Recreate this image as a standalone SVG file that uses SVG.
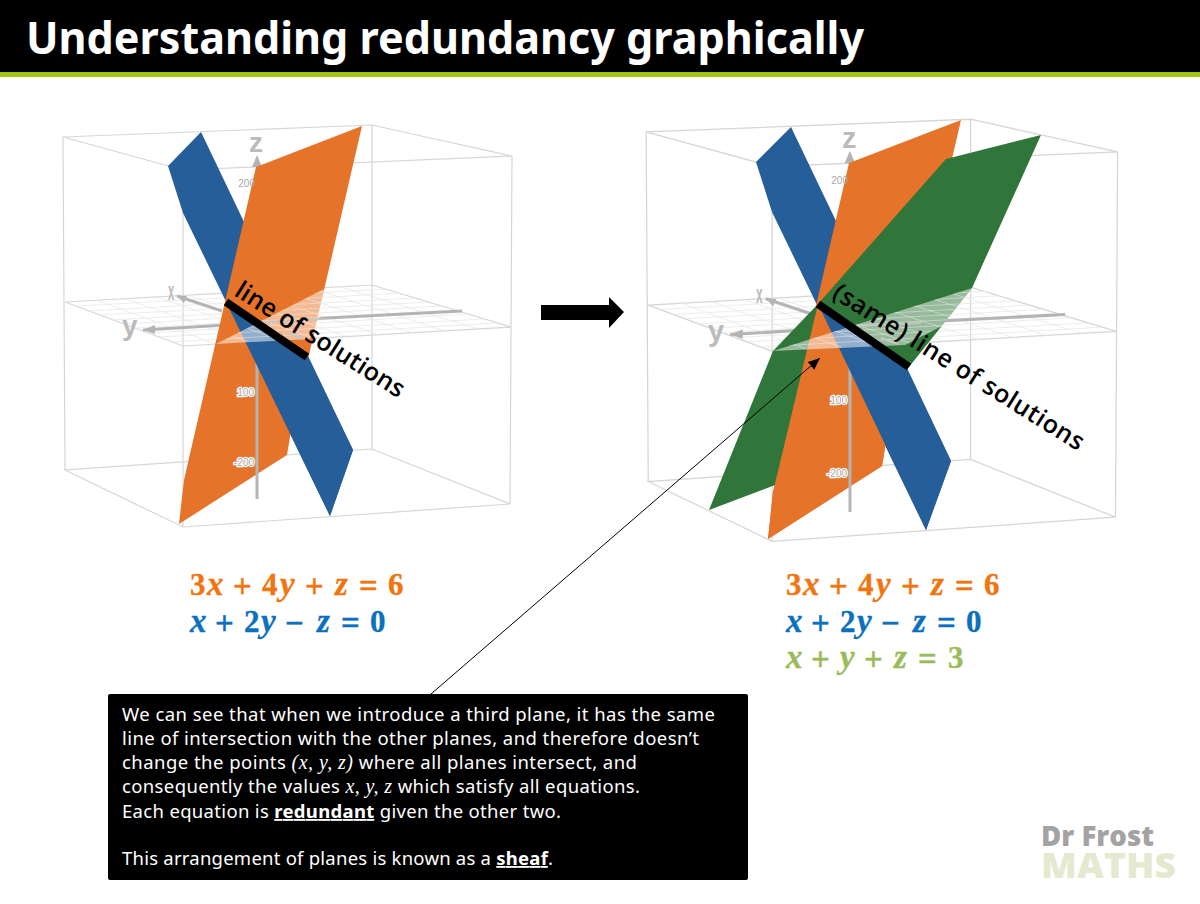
<svg xmlns="http://www.w3.org/2000/svg" xmlns:xlink="http://www.w3.org/1999/xlink" width="1200" height="904" viewBox="0 0 1200 904">
<style>
.blue{fill:#265e99}
.orange{fill:#e5742a}
.green{fill:#30753a}
.veil{fill:#fff;opacity:.5}
.sol{stroke:#000;stroke-width:8;fill:none}
.axis{stroke:#b4b4b4;stroke-width:3;fill:none}
.axisf{stroke:#c6c6c6;stroke-width:2;fill:none}
.ah{fill:#b4b4b4}
.axl{font-family:"Liberation Sans",Arial,sans-serif;fill:#bbb;font-weight:700}
.tick{font-family:"Liberation Sans",Arial,sans-serif;font-size:10px;fill:#a8a8a8;text-anchor:end}
.halo{paint-order:stroke;stroke:#fff;stroke-width:2.5px}
.lab{font-family:"Open Sans","Noto Sans",sans-serif;font-size:25px;font-weight:600;fill:#000}
.eq{font-family:"Liberation Serif","Times New Roman",serif;font-size:31px;font-weight:700;stroke-width:.35px}
.eq .v{font-style:italic;font-size:33px}
.eq .op{font-size:33px;baseline-shift:-2px}
.or{fill:#f0750f;stroke:#f0750f}
.bl{fill:#0b70bd;stroke:#0b70bd}
.gr{fill:#9bbb59;stroke:#9bbb59}
.body{font-family:"Noto Sans","DejaVu Sans",sans-serif;font-size:18.5px;fill:#fff}
.m{font-family:"Liberation Serif",serif;font-style:italic;font-size:20px}
.st{font-weight:700;text-decoration:underline}
</style>
<defs>
<marker id="tip" markerUnits="userSpaceOnUse" markerWidth="14" markerHeight="12" refX="12" refY="5" orient="auto"><path d="M0 0L12 5L0 10Z" fill="#000"/></marker>
<path id="grid" fill="none" d="M96 300L216 344M126 299L249 342M157 297L281 340M188 295L314 338M218.500 293.500L347 336.500M249 292L380 335M280 290L413 333M311 288L445 331M341 287L478 329M77 306L386 289M89 311L400 293M100 315L414 298M112 320L428 302M124 324L441.500 306M136 328L455 310M148 333L469 314M159 337L483 319M171 342L497 323"/>
<g id="frame">
<path fill="none" stroke="#d6d6d6" stroke-width="1.200" d="M63 137L372 125L512 156L183 170ZM63 137L65 470M372 125L372 449M183 170L183 527M512 156L510 504M65 470L183 527L510 504L372 449ZM65 302L183 346L511 327L372 285Z"/>
<use xlink:href="#grid" href="#grid" stroke="#e9e9e9" stroke-width=".8"/>
<path class="axis" d="M226 325L143 330M462 311L228 323M222 311L177 296"/>
<path class="ah" d="M143 330L155 325L155 334ZM177 296L187 296L184 303ZM257 155L252 167L262 167Z"/>
</g>
<clipPath id="cL"><path d="M216 344L324 289L318 325L310 339Z"/></clipPath>
<clipPath id="cR"><path d="M773 351L972 288L942 326L905 345Z"/></clipPath>
</defs>

<g id="title-bar">
<rect x="0" y="0" width="1200" height="72" fill="#000"/>
<rect x="0" y="72" width="1200" height="5" fill="#a2c617"/>
<text x="26" y="54" font-family="'Noto Sans','Open Sans',sans-serif" font-size="44px" font-weight="700" fill="#fff" textLength="838" lengthAdjust="spacingAndGlyphs">Understanding redundancy graphically</text>
</g>

<g id="plot-left">
<use xlink:href="#frame" href="#frame"/>
<polygon class="blue" points="168,166 201,132 353,450 330,516 183,213"/>
<polygon class="orange" points="362,126 256,167 184,480 179,524 287,455 290,437"/>
<line class="axis" x1="257" y1="360" x2="257" y2="499"/>
<polygon class="blue" points="226,302 308,357 353,450 330,516"/>
<path class="veil" d="M216 344L324 289L318 325L310 339Z"/>
<g clip-path="url(#cL)"><use xlink:href="#grid" href="#grid" stroke="#fff" stroke-opacity=".45" stroke-width=".8"/></g>
<path class="axisf" d="M263 322L325 319M287 333L303 339"/>
<line class="sol" x1="226" y1="302" x2="307" y2="357"/>
<text class="axl" x="249" y="152" font-size="28px">z</text>
<text class="axl" x="122" y="335" font-size="28px">y</text>
<text class="axl" transform="translate(168,300) scale(.45,1)" font-size="25px">x</text>
<text class="tick" x="255" y="187">200</text>
<text class="tick halo" x="254" y="396" fill="#aaa">100</text>
<text class="tick halo" x="254" y="466">-200</text>
<text class="lab" transform="translate(233,295) rotate(32)" textLength="195">line of solutions</text>
</g>

<g id="plot-right">
<use xlink:href="#frame" href="#frame" transform="matrix(1.05 0 0 1.05 580 -12)"/>
<polygon class="blue" points="756,162 791,127 951,461 926,530 772,212"/>
<polygon class="orange" points="961,120 849,163 773,492 768,539 882,466 885,448"/>
<polygon class="green" points="1041,135 946,159 818,304 773,351 709,510 775,485 818,440 909,367 972,288"/>
<polygon class="orange" points="818,304 905,365 885,448 882,466 768,539 773,492"/>
<line class="axis" x1="850" y1="366" x2="850" y2="512"/>
<polygon class="blue" points="818,304 906,366 951,461 926,530"/>
<path class="veil" d="M773 351L972 288L942 326L905 345Z"/>
<g clip-path="url(#cR)"><use xlink:href="#grid" href="#grid" transform="matrix(1.05 0 0 1.05 580 -12)" stroke="#fff" stroke-opacity=".45" stroke-width=".8"/></g>
<path class="axisf" d="M856 326L921 323M881 338L898 344"/>
<line class="sol" x1="818" y1="304" x2="909" y2="367"/>
<text class="axl" x="842" y="148" font-size="29px">z</text>
<text class="axl" x="708" y="341" font-size="29px">y</text>
<text class="axl" transform="translate(756,303) scale(.45,1)" font-size="26px">x</text>
<text class="tick" x="848" y="184">200</text>
<text class="tick halo" x="847" y="404">100</text>
<text class="tick halo" x="847" y="477">-200</text>
<text class="lab" transform="translate(831,297) rotate(32)" textLength="291">(same) line of solutions</text>
</g>

<g id="transition-arrow"><polygon points="541,305 609,305 609,297 624,312 609,328 609,320 541,320" fill="#000"/></g>

<g id="eqs-left">
<text class="eq or" y="595"><tspan x="190">3</tspan><tspan class="v" x="207">x</tspan><tspan class="op" x="233">+</tspan><tspan x="262">4</tspan><tspan class="v" x="280">y</tspan><tspan class="op" x="305">+</tspan><tspan class="v" x="335">z</tspan><tspan class="op" x="359">=</tspan><tspan x="388">6</tspan></text>
<text class="eq bl" y="632"><tspan class="v" x="190">x</tspan><tspan class="op" x="215">+</tspan><tspan x="244">2</tspan><tspan class="v" x="261">y</tspan><tspan class="op" x="285">−</tspan><tspan class="v" x="317">z</tspan><tspan class="op" x="341">=</tspan><tspan x="370">0</tspan></text>
</g>
<g id="eqs-right">
<text class="eq or" y="595"><tspan x="786">3</tspan><tspan class="v" x="803">x</tspan><tspan class="op" x="829">+</tspan><tspan x="858">4</tspan><tspan class="v" x="876">y</tspan><tspan class="op" x="901">+</tspan><tspan class="v" x="931">z</tspan><tspan class="op" x="955">=</tspan><tspan x="984">6</tspan></text>
<text class="eq bl" y="632"><tspan class="v" x="786">x</tspan><tspan class="op" x="811">+</tspan><tspan x="840">2</tspan><tspan class="v" x="857">y</tspan><tspan class="op" x="881">−</tspan><tspan class="v" x="913">z</tspan><tspan class="op" x="937">=</tspan><tspan x="966">0</tspan></text>
<text class="eq gr" y="668"><tspan class="v" x="786">x</tspan><tspan class="op" x="811">+</tspan><tspan class="v" x="840">y</tspan><tspan class="op" x="864">+</tspan><tspan class="v" x="894">z</tspan><tspan class="op" x="918">=</tspan><tspan x="948">3</tspan></text>
</g>

<g id="connectors"><line x1="431" y1="694" x2="820" y2="358" stroke="#000" stroke-width="1" marker-end="url(#tip)"/></g>

<g id="note">
<rect x="108" y="694" width="640" height="186" rx="2" fill="#000"/>
<text class="body" x="122" y="721" textLength="593">We can see that when we introduce a third plane, it has the same</text>
<text class="body" x="122" y="745" textLength="577">line of intersection with the other planes, and therefore doesn’t</text>
<text class="body" x="122" y="769" textLength="515">change the points <tspan class="m">(x, y, z)</tspan> where all planes intersect, and</text>
<text class="body" x="122" y="793" textLength="518">consequently the values <tspan class="m">x, y, z</tspan> which satisfy all equations.</text>
<text class="body" x="122" y="818" textLength="439">Each equation is <tspan class="st">redundant</tspan> given the other two.</text>
<text class="body" x="122" y="865" textLength="431">This arrangement of planes is known as a <tspan class="st">sheaf</tspan>.</text>
</g>

<g id="logo">
<text x="1041" y="846" font-family="'Open Sans','Noto Sans',sans-serif" font-size="28px" font-weight="800" fill="#a3a3a3" textLength="113" lengthAdjust="spacingAndGlyphs">Dr Frost</text>
<text x="1041" y="878" font-family="'Open Sans','Noto Sans',sans-serif" font-size="36px" font-weight="800" fill="#e6e9d0" textLength="135" lengthAdjust="spacingAndGlyphs">MATHS</text>
</g>
</svg>
